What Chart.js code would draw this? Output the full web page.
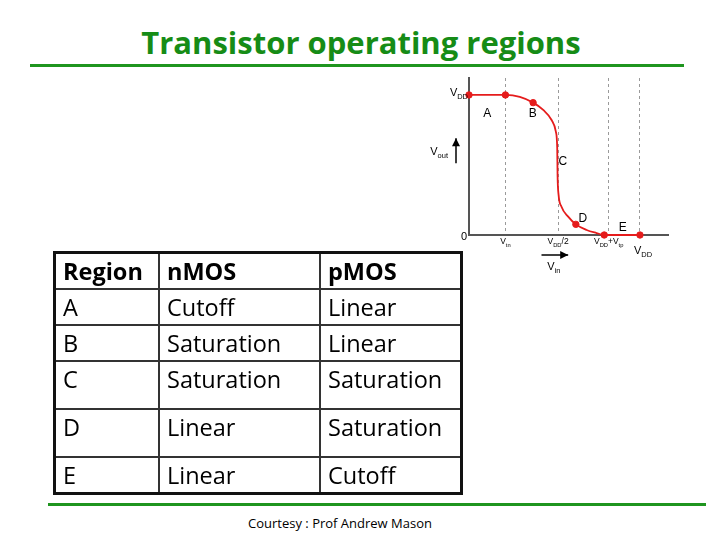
<!DOCTYPE html>
<html>
<head>
<meta charset="utf-8">
<script src="https://cdn.jsdelivr.net/npm/chart.js@4.4.1/dist/chart.umd.min.js"></script>
<style>
body { margin:0; width:720px; height:540px; background:#fff; position:relative; overflow:hidden; font-family:'Comic Sans MS','Open Sans',sans-serif; color:#000; }
h1 { position:absolute; left:0; top:26px; width:722px; margin:0; text-align:center; color:#168c16; font-size:31px; line-height:32px; font-weight:bold; }
.rule { position:absolute; height:3px; background:#1f951f; }
#vtc { position:absolute; left:400px; top:70px; }
table { position:absolute; left:53px; top:251px; border-collapse:collapse; border:3px solid #111; }
td, th { border:2px solid #333; padding:0 0 0 7px; vertical-align:top; font-size:23.5px; line-height:34px; text-align:left; height:34px; }
th { font-weight:bold; }
tr.tall td { height:46px; }
.note { position:absolute; left:0; top:514px; width:680px; text-align:center; font-size:13px; }
</style>
</head>
<body>
<h1>Transistor operating regions</h1>
<div class="rule" style="left:30px; top:64px; width:654px;"></div>
<canvas id="vtc" width="300" height="220"></canvas>
<table id="regions"></table>
<div class="rule" style="left:48px; top:503px; width:658px;"></div>
<div class="note">Courtesy : Prof Andrew Mason</div>
<script>
// inverter transfer curve, Vin and Vout as fractions of VDD
const curveVin  = [0, 0.213, 0.297, 0.375, 0.434, 0.483, 0.508, 0.516, 0.518, 0.524, 0.541, 0.580, 0.625, 0.688, 0.746, 0.791, 1.0]
const curveVout = [1, 1, 0.986, 0.945, 0.893, 0.821, 0.738, 0.619, 0.429, 0.286, 0.202, 0.131, 0.076, 0.036, 0.014, 0, 0]

// red boundary dots
const dotVin  = [0, 0.213, 0.375, 0.625, 0.791, 1.0]
const dotVout = [1, 1, 0.945, 0.076, 0, 0]

// x ticks (dashed guides)
const xTickValues = [0.213, 0.521, 0.817, 1.0]
const xTickLabels = ['V{tn}', 'V{DD}/2', 'V{DD}+V{tp}', 'V{DD}']

// region letters on the curve
const regionNames = ['A', 'B', 'C', 'D', 'E']
const regionVin   = [0.107, 0.373, 0.549, 0.666, 0.9]
const regionVout  = [0.864, 0.864, 0.521, 0.118, 0.05]

// table
const tableHeader = ['Region', 'nMOS', 'pMOS']
const nmosModes = ['Cutoff', 'Saturation', 'Saturation', 'Linear', 'Linear']
const pmosModes = ['Linear', 'Linear', 'Saturation', 'Saturation', 'Cutoff']

const table = document.getElementById('regions')
const colWidths = [95, 152, 132]
const head = document.createElement('tr')
tableHeader.forEach((h, i) => {
    const th = document.createElement('th')
    th.textContent = h
    th.style.width = colWidths[i] + 'px'
    head.appendChild(th)
})
table.appendChild(head)
regionNames.forEach((r, i) => {
    const tr = document.createElement('tr')
    if (r === 'C' || r === 'D') tr.className = 'tall'
    ;[r, nmosModes[i], pmosModes[i]].forEach(t => {
        const td = document.createElement('td')
        td.textContent = t
        tr.appendChild(td)
    })
    table.appendChild(tr)
})

const FONT = '"Liberation Sans", Arial, sans-serif'

// text with {subscript} parts
function richText(ctx, str, x, y, size, align) {
    const segs = str.split(/(\{[^}]*\})/).filter(s => s).map(p => {
        const sub = p[0] === '{'
        return { t: sub ? p.slice(1, -1) : p, sub }
    })
    const fontOf = s => (s.sub ? size * 0.68 : size) + 'px ' + FONT
    let w = 0
    segs.forEach(s => { ctx.font = fontOf(s); s.w = ctx.measureText(s.t).width; w += s.w })
    let cx = align === 'center' ? x - w / 2 : align === 'right' ? x - w : x
    ctx.textAlign = 'left'
    ctx.textBaseline = 'alphabetic'
    segs.forEach(s => {
        ctx.font = fontOf(s)
        ctx.fillText(s.t, cx, s.sub ? y + size * 0.3 : y)
        cx += s.w
    })
}

function arrow(ctx, x1, y1, x2, y2) {
    const a = Math.atan2(y2 - y1, x2 - x1)
    ctx.beginPath()
    ctx.moveTo(x1, y1)
    ctx.lineTo(x2, y2)
    ctx.stroke()
    ctx.beginPath()
    ctx.moveTo(x2, y2)
    ctx.lineTo(x2 - 8 * Math.cos(a) + 4 * Math.sin(a), y2 - 8 * Math.sin(a) - 4 * Math.cos(a))
    ctx.lineTo(x2 - 8 * Math.cos(a) - 4 * Math.sin(a), y2 - 8 * Math.sin(a) + 4 * Math.cos(a))
    ctx.closePath()
    ctx.fill()
}

const labelsPlugin = {
    id: 'vtcLabels',
    afterDraw(chart) {
        const ctx = chart.ctx
        const xs = chart.scales.x, ys = chart.scales.y
        const x0 = xs.getPixelForValue(0), y0 = ys.getPixelForValue(0)
        ctx.save()
        ctx.fillStyle = '#000'
        ctx.strokeStyle = '#000'
        ctx.lineWidth = 1.5

        richText(ctx, 'V{DD}', x0 - 1, ys.getPixelForValue(1) + 1, 11, 'right')
        richText(ctx, '0', x0 - 2, y0 + 5, 11, 'right')

        regionNames.forEach((n, i) => {
            ctx.font = '12px ' + FONT
            ctx.textAlign = 'center'
            ctx.textBaseline = 'middle'
            ctx.fillText(n, xs.getPixelForValue(regionVin[i]), ys.getPixelForValue(regionVout[i]))
        })

        xTickValues.forEach((v, i) => {
            const last = i === xTickValues.length - 1
            if (last) richText(ctx, xTickLabels[i], xs.getPixelForValue(v) + 3, y0 + 19, 11, 'center')
            else richText(ctx, xTickLabels[i], xs.getPixelForValue(v), y0 + 9, 8.5, 'center')
        })

        // Vout label with up arrow
        const yMid = ys.getPixelForValue(0.571)
        richText(ctx, 'V{out}', x0 - 21, yMid, 11, 'right')
        arrow(ctx, x0 - 13, ys.getPixelForValue(0.512), x0 - 13, ys.getPixelForValue(0.69))

        // Vin label with right arrow
        arrow(ctx, xs.getPixelForValue(0.424), y0 + 20, xs.getPixelForValue(0.58), y0 + 20)
        richText(ctx, 'V{in}', xs.getPixelForValue(0.496), y0 + 35, 11, 'center')
        ctx.restore()
    }
}

new Chart(document.getElementById('vtc').getContext('2d'), {
    type: 'line',
    data: {
        datasets: [{
            data: curveVin.map((v, i) => ({ x: v, y: curveVout[i] })),
            borderColor: '#e51c1c',
            borderWidth: 1.8,
            pointRadius: 0,
            cubicInterpolationMode: 'monotone',
            fill: false,
            clip: false
        }, {
            data: dotVin.map((v, i) => ({ x: v, y: dotVout[i] })),
            showLine: false,
            pointRadius: 3.2,
            pointBackgroundColor: '#e51c1c',
            pointBorderColor: '#e51c1c',
            clip: false
        }]
    },
    options: {
        responsive: false,
        animation: false,
        layout: { padding: { left: 69, top: 8, right: 32, bottom: 55 } },
        plugins: { legend: { display: false }, tooltip: { enabled: false } },
        scales: {
            x: {
                type: 'linear',
                min: 0,
                max: 1.164,
                afterBuildTicks: scale => { scale.ticks = xTickValues.map(v => ({ value: v })) },
                ticks: { display: false },
                grid: { color: '#9a9a9a', lineWidth: 1, drawTicks: false },
                border: { color: '#555', width: 2, dash: [3, 3] }
            },
            y: {
                type: 'linear',
                min: 0,
                max: 1.121,
                ticks: { display: false },
                grid: { display: false, drawTicks: false },
                border: { color: '#555', width: 2 }
            }
        }
    },
    plugins: [labelsPlugin]
});
</script>
</body>
</html>
